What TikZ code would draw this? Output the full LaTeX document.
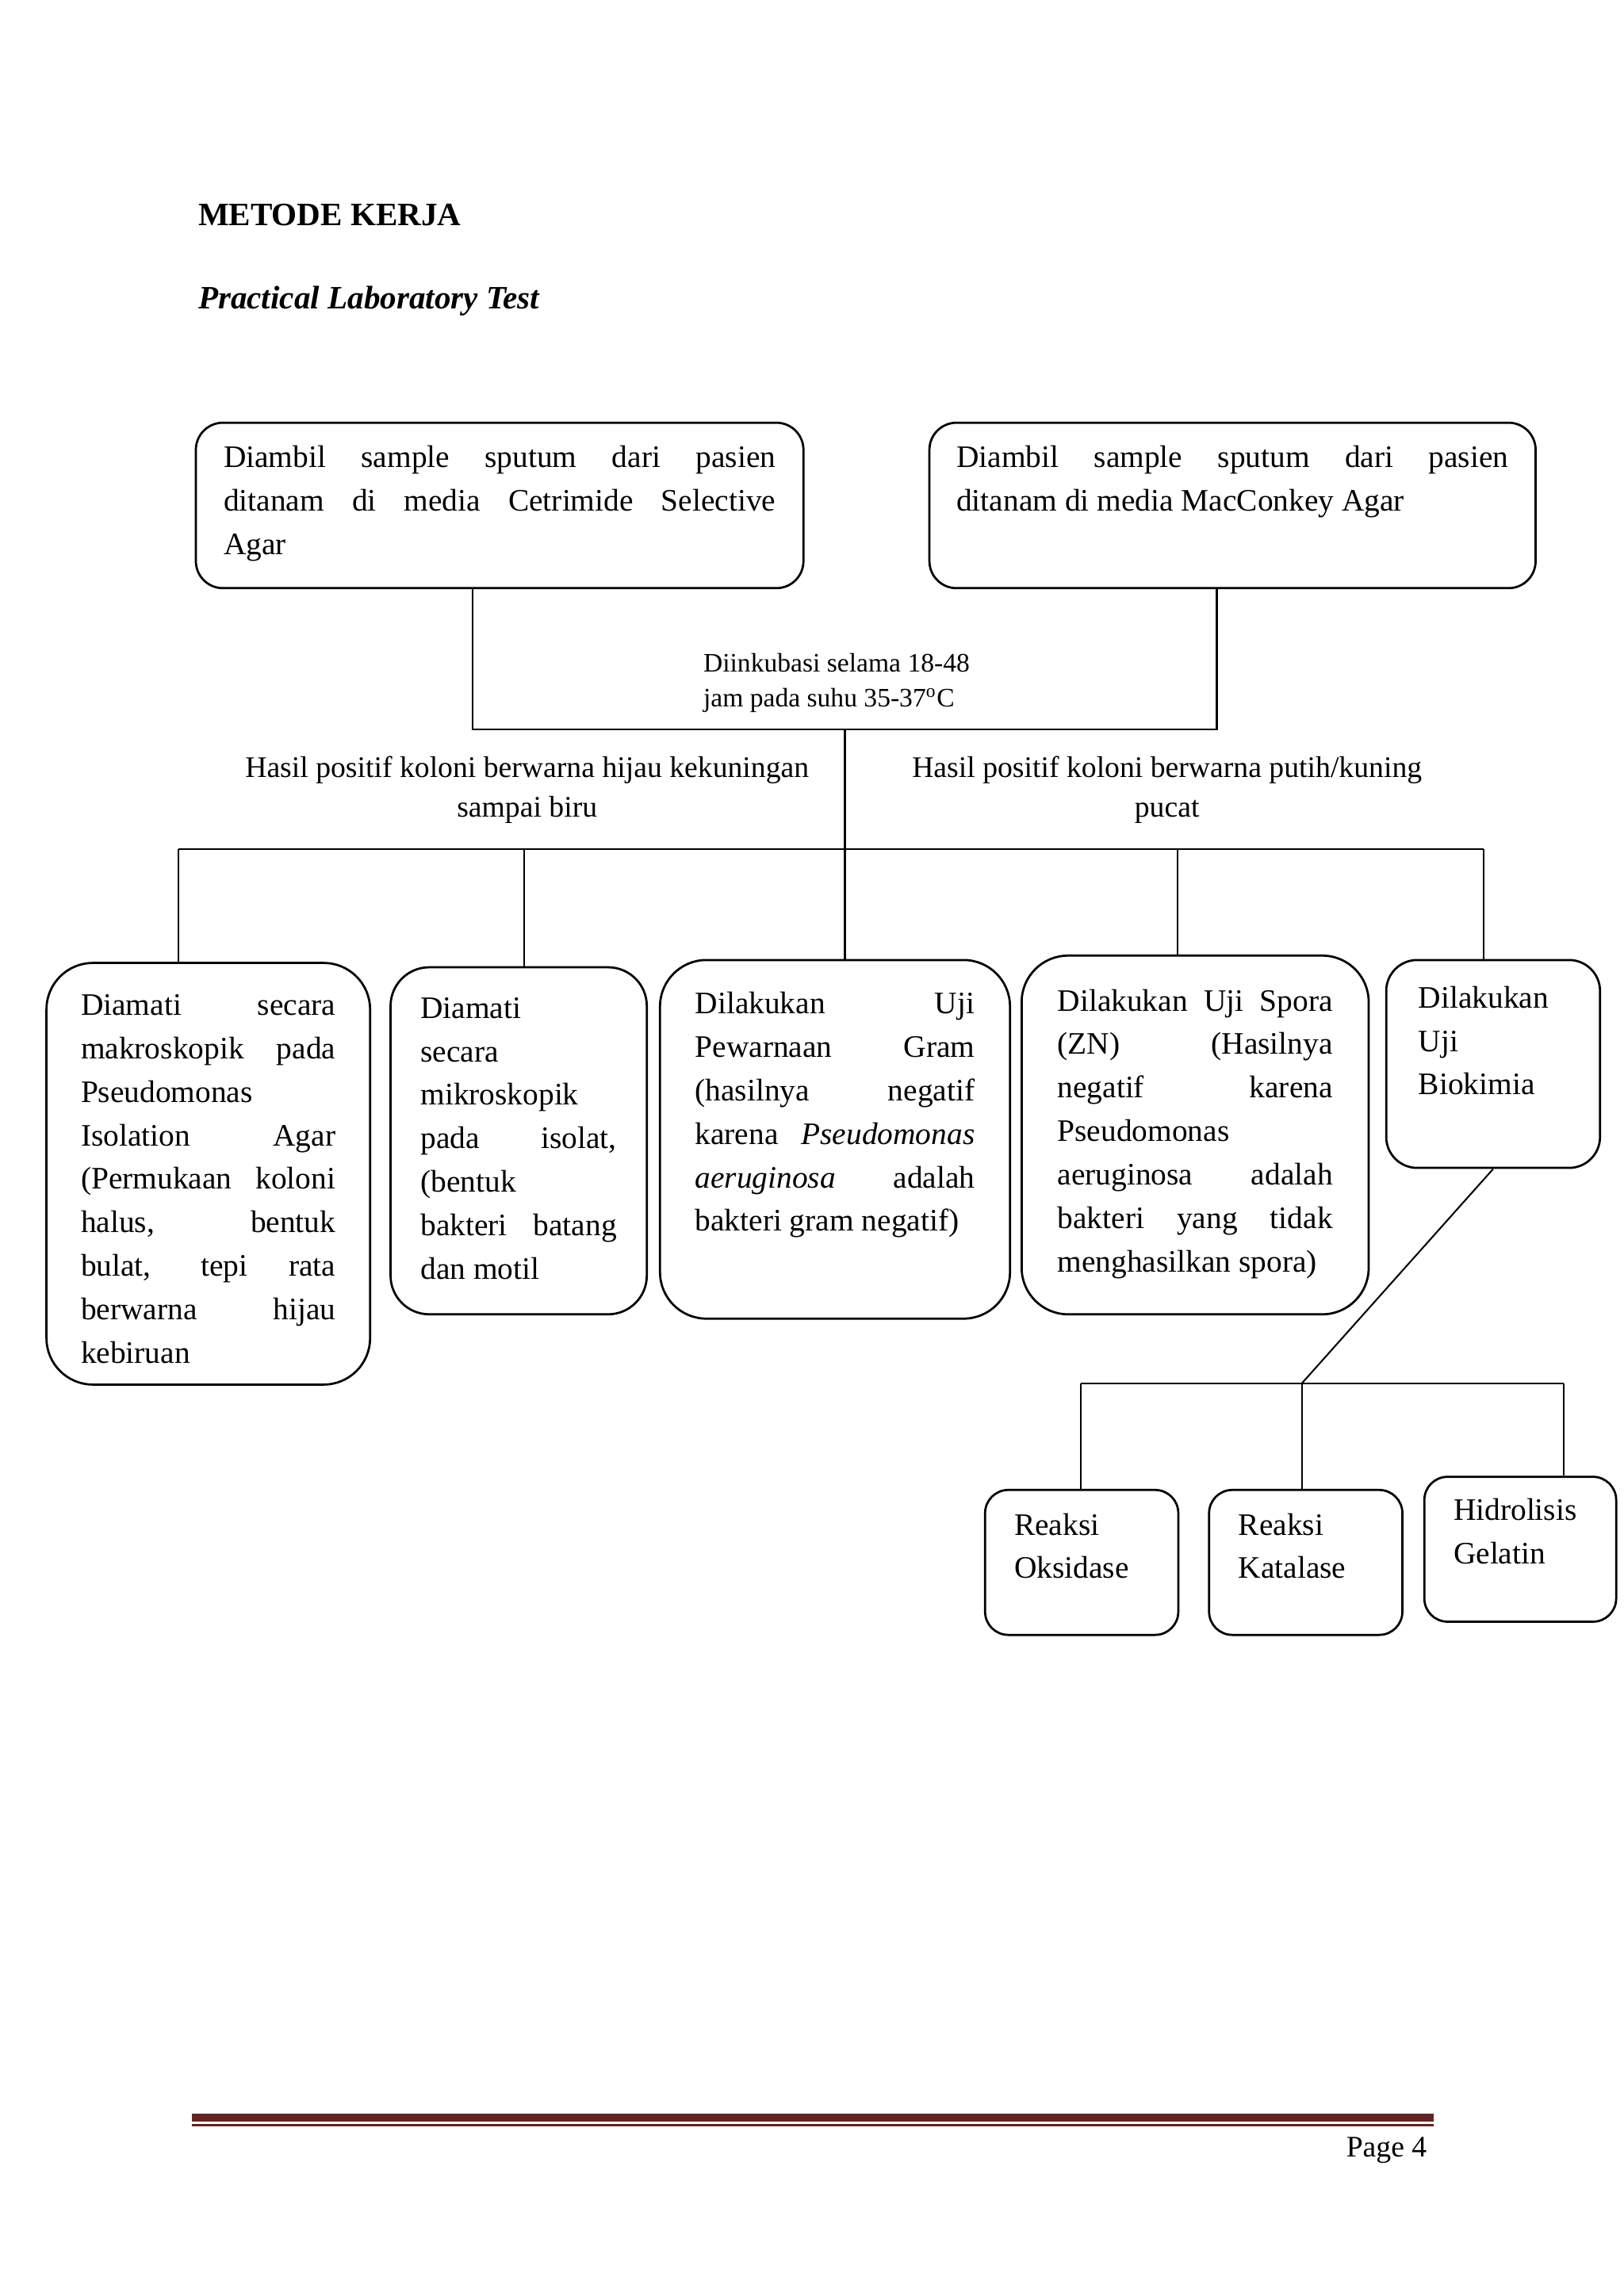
\documentclass[tikz,border=0pt]{standalone}
\usepackage{fontspec}
\setmainfont{Liberation Serif}
\usepackage{tikz}
\definecolor{merahtua}{RGB}{98,36,35}
\newcommand{\isi}{\fontsize{11.5}{16}\selectfont\tolerance=10000\hyphenpenalty=10000\relax}
\tikzstyle{garis} = [draw, line width=0.6pt, -]
\tikzset{
  kotak/.style = {draw, line width=0.8pt, anchor=north west, font=\isi},% kotak sudut bulat
  ket/.style = {inner sep=0pt, align=center, font=\fontsize{11}{14.5}\selectfont},% keterangan hasil
}

\begin{document}
\begin{tikzpicture}
  \path[use as bounding box] (0,0) rectangle (21,-29.7);

  \node[anchor=base west, inner sep=0pt, font=\fontsize{12}{14}\selectfont\bfseries] (judul) at (2.557,-2.92) {METODE KERJA};
  \node[anchor=base west, inner sep=0pt, font=\fontsize{12}{14}\selectfont\bfseries\itshape] (sub) at (2.557,-3.99) {Practical Laboratory Test};

  % sampel
  \node[kotak, rounded corners=0.35cm, inner xsep=0.359cm, inner ysep=0.188cm] (sA) at (2.519,-5.454)
    {\parbox[t][1.764cm][t]{7.14cm}{\strut Diambil sample sputum dari pasien\linebreak ditanam di media Cetrimide Selective\linebreak Agar}};
  \node[kotak, rounded corners=0.35cm, inner xsep=0.35cm, inner ysep=0.188cm] (sB) at (12.006,-5.454)
    {\parbox[t][1.764cm][t]{7.14cm}{\strut Diambil sample sputum dari pasien\linebreak ditanam di media MacConkey Agar}};

  \node[anchor=north west, inner sep=0pt, align=left, font=\fontsize{9.8}{12.9}\selectfont] (inkub) at (9.09,-8.445)
    {Diinkubasi selama 18-48\\jam pada suhu 35-37\textsuperscript{o}C};
  \node[ket, anchor=north] (hasilL) at (6.817,-9.775) {Hasil positif koloni berwarna hijau kekuningan\\sampai biru};
  \node[ket, anchor=north] (hasilR) at (15.093,-9.775) {Hasil positif koloni berwarna putih/kuning\\pucat};

  % pengamatan
  \node[kotak, rounded corners=0.6cm, inner xsep=0.445cm, inner ysep=0.283cm] (k1) at (0.587,-12.442)
    {\parbox[t][4.888cm][t]{3.295cm}{\strut Diamati secara\linebreak makroskopik pada\linebreak Pseudomonas\\ Isolation Agar\linebreak (Permukaan koloni\linebreak halus, bentuk\linebreak bulat, tepi rata\linebreak berwarna hijau\linebreak kebiruan}};
  \node[kotak, rounded corners=0.5cm, inner xsep=0.3885cm, inner ysep=0.265cm] (k2) at (5.037,-12.498)
    {\parbox[t][3.959cm][t]{2.537cm}{\strut Diamati\\ secara\\ mikroskopik\\ pada isolat,\linebreak (bentuk\\ bakteri batang\linebreak dan motil}};
  \node[kotak, rounded corners=0.6cm, inner xsep=0.4545cm, inner ysep=0.302cm] (k3) at (8.522,-12.404)
    {\parbox[t][4.035cm][t]{3.617cm}{\strut Dilakukan Uji\linebreak Pewarnaan Gram\linebreak (hasilnya negatif\linebreak karena \emph{Pseudomonas}\linebreak \emph{aeruginosa} adalah\linebreak bakteri gram negatif)}};
  \node[kotak, rounded corners=0.6cm, inner xsep=0.464cm, inner ysep=0.321cm] (k4) at (13.199,-12.347)
    {\parbox[t][3.998cm][t]{3.56cm}{\strut Dilakukan Uji Spora\linebreak (ZN) (Hasilnya\linebreak negatif karena\linebreak Pseudomonas\\ aeruginosa adalah\linebreak bakteri yang tidak\linebreak menghasilkan spora)}};
  \node[kotak, rounded corners=0.4cm, inner xsep=0.417cm, inner ysep=0.226cm] (k5) at (17.914,-12.404)
    {\parbox[t][2.237cm][t]{1.931cm}{\strut Dilakukan\\ Uji\\ Biokimia}};

  % uji biokimia
  \node[kotak, rounded corners=0.3cm, inner xsep=0.378cm, inner ysep=0.188cm] (k6) at (12.726,-19.259)
    {\parbox[t][1.499cm][t]{1.743cm}{\strut Reaksi\\ Oksidase}};
  \node[kotak, rounded corners=0.3cm, inner xsep=0.379cm, inner ysep=0.188cm] (k7) at (15.623,-19.259)
    {\parbox[t][1.499cm][t]{1.742cm}{\strut Reaksi\\ Katalase}};
  \node[kotak, rounded corners=0.3cm, inner xsep=0.378cm, inner ysep=0.169cm] (k8) at (18.407,-19.089)
    {\parbox[t][1.536cm][t]{1.725cm}{\strut Hidrolisis\\ Gelatin}};

  \coordinate (a1) at (6.117,-9.431);
  \coordinate (b1) at (15.737,-9.431);
  \coordinate (m1) at (10.927,-9.431);
  \coordinate (m2) at (10.927,-10.984);
  \coordinate (d1) at (2.310,-10.984);
  \coordinate (d2) at (6.779,-10.984);
  \coordinate (d4) at (15.225,-10.984);
  \coordinate (d5) at (19.184,-10.984);
  \coordinate (j) at (16.835,-17.896);
  \coordinate (e1) at (13.976,-17.896);
  \coordinate (e3) at (20.225,-17.896);

  \path[garis] (sA.south -| a1) -- (a1) -- (b1) -- (sB.south -| b1);
  \path[garis] (m1) -- (m2);
  \path[garis] (d1) -- (d5);
  \path[garis] (d1) -- (d1 |- k1.north);
  \path[garis] (d2) -- (d2 |- k2.north);
  \path[garis] (m2) -- (m2 |- k3.north);
  \path[garis] (d4) -- (d4 |- k4.north);
  \path[garis] (d5) -- (d5 |- k5.north);

  \path[garis] (k5.south) -- (j);
  \path[garis] (e1) -- (e3);
  \path[garis] (e1) -- (e1 |- k6.north);
  \path[garis] (j) -- (j |- k7.north);
  \path[garis] (e3) -- (e3 |- k8.north);

  \path[draw=merahtua, line width=0.1cm] (2.48,-27.39) -- (18.54,-27.39);
  \path[draw=merahtua, line width=0.035cm] (2.48,-27.49) -- (18.54,-27.49);
  \node[anchor=base east, inner sep=0pt, font=\fontsize{11}{13}\selectfont] (hal) at (18.46,-27.9) {Page 4};
\end{tikzpicture}
\end{document}
